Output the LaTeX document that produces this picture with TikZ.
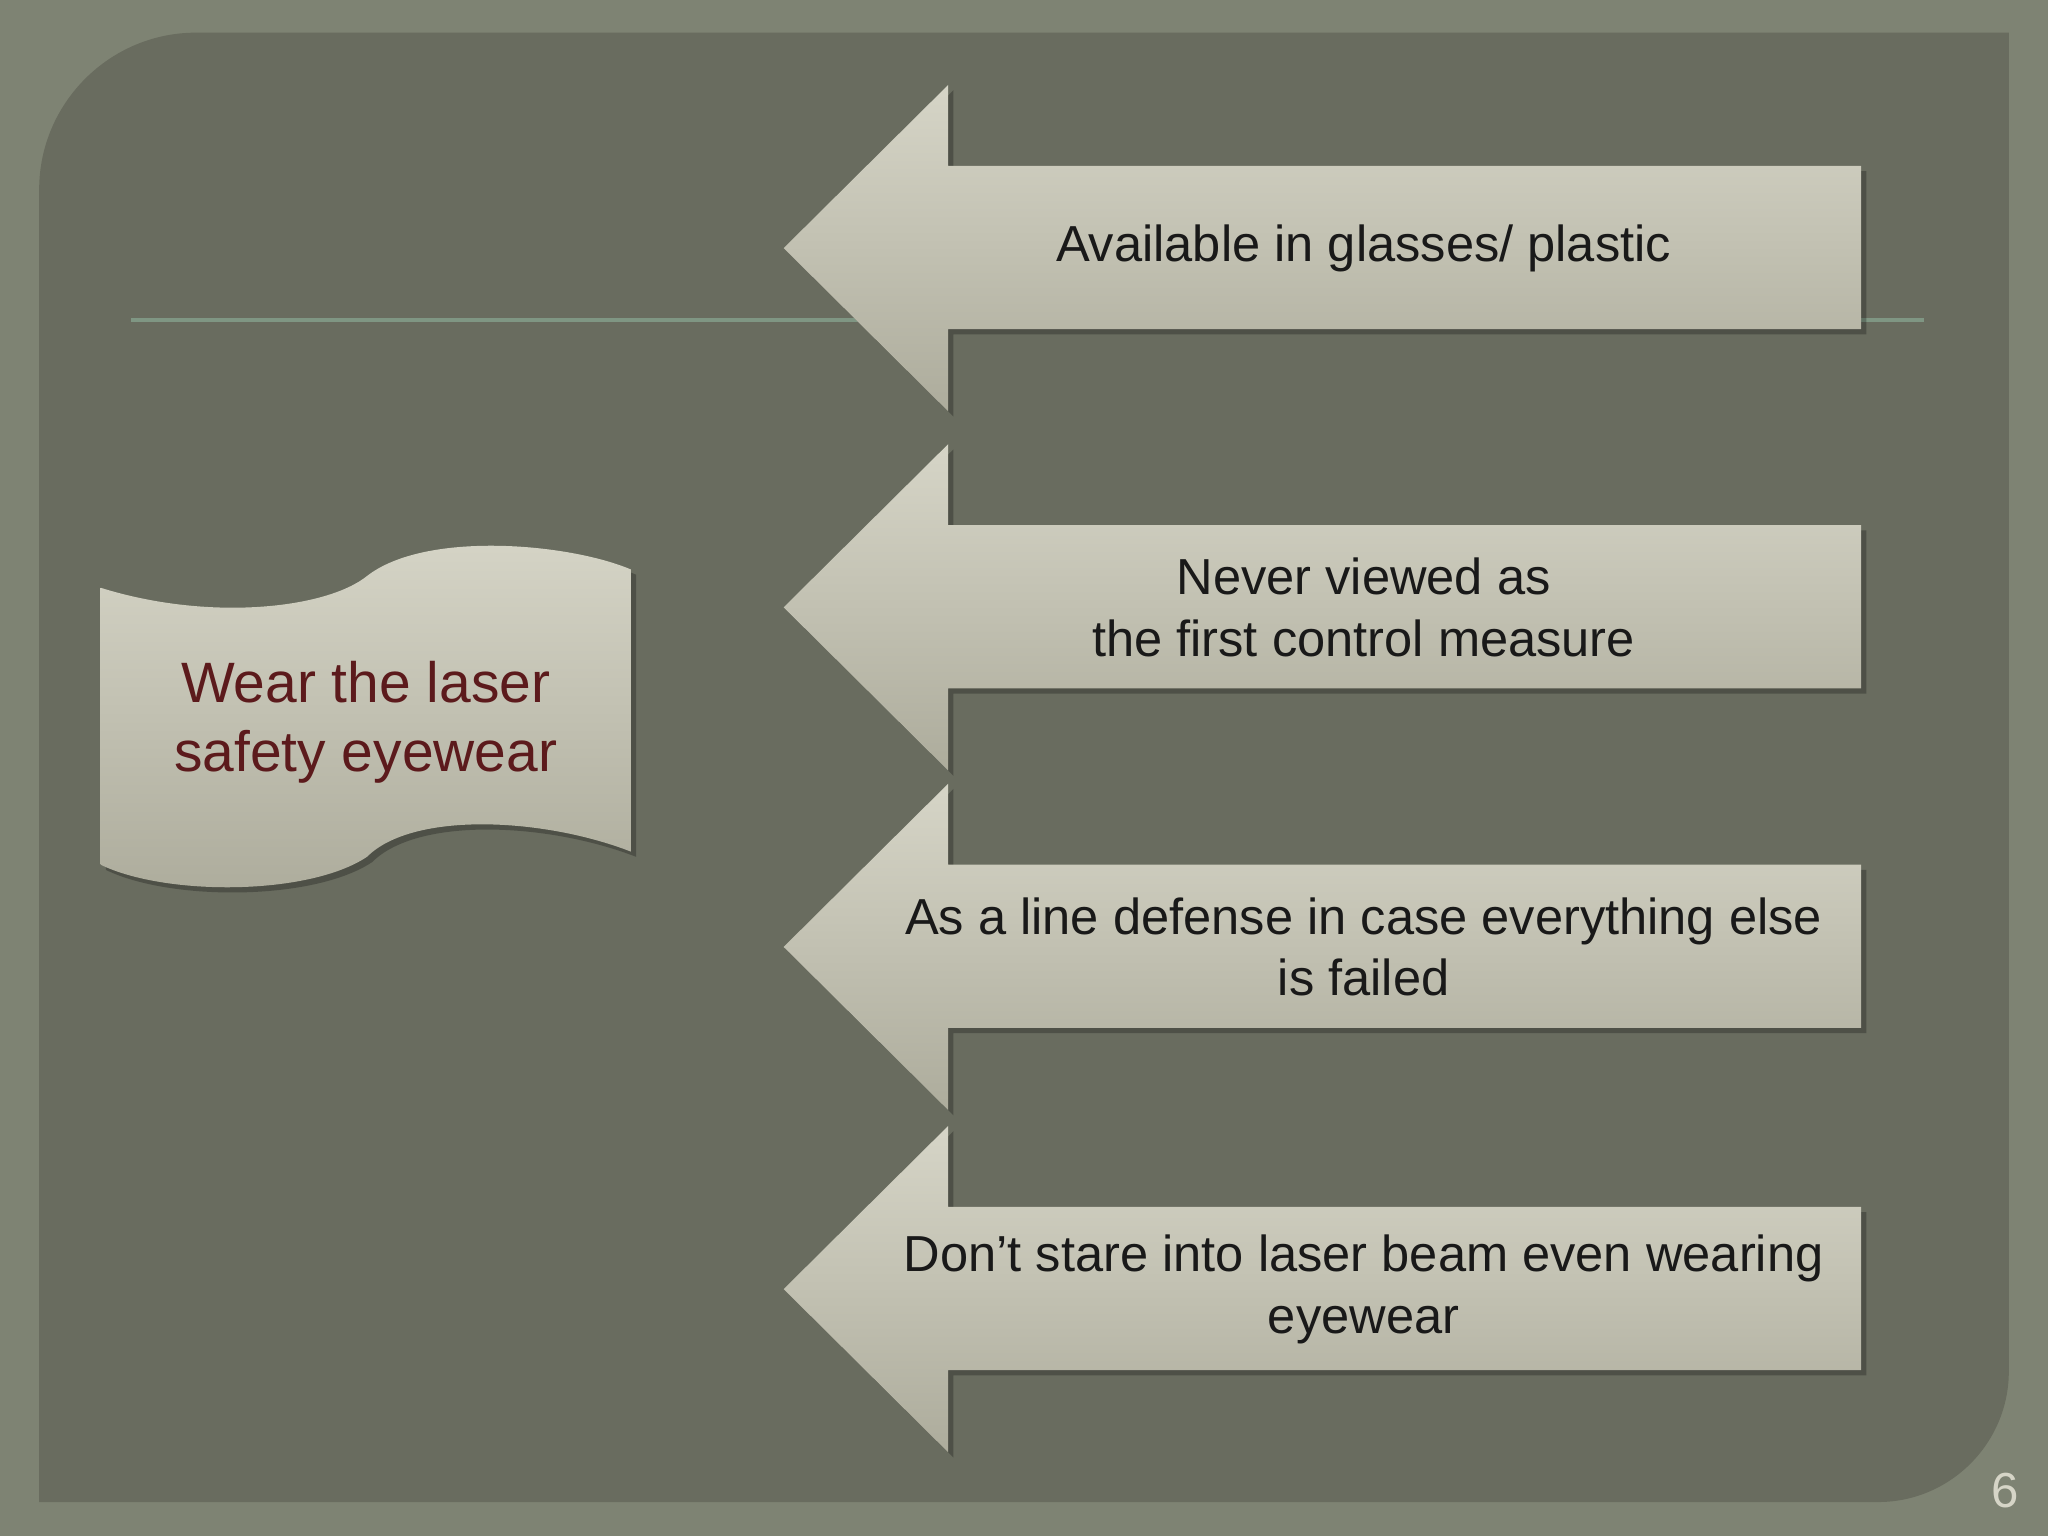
\documentclass[tikz,border=0pt]{standalone}
\usepackage{fontspec}
\setmainfont{Liberation Sans}
\begin{document}
\begin{tikzpicture}[x=0.013061cm,y=-0.013061cm,
  arr/.style={top color=arrtop,bottom color=arrbot,draw=none},
  lbl/.style={align=center,font=\fontsize{14.4pt}{17.6pt}\selectfont,text=black!90}]
\definecolor{bgout}{HTML}{7E8373}
\definecolor{panel}{HTML}{696C5F}
\definecolor{arrtop}{HTML}{D6D5C7}
\definecolor{arrbot}{HTML}{ADAC9C}
\definecolor{rule}{HTML}{7F9683}
\definecolor{banner}{HTML}{5C1A1C}
\fill[bgout] (0,0) rectangle (1568,1176);
\useasboundingbox (0,0) rectangle (1568,1176);
\fill[panel] (30,1150) -- (30,145) .. controls (30,79) and (84,25) .. (150,25) -- (1538,25) -- (1538,1050) .. controls (1538,1105) and (1493,1150) .. (1438,1150) -- cycle;
\draw[rule,line width=1.2pt] (100,245) coordinate (la) -- (1473,245) coordinate (lb);
\foreach \n/\c in {a/190,b/465,c/725,d/987}{
  \fill[black,opacity=0.25] (604,\c+4) -- (730,\c-121) -- (730,\c-59) -- (1429,\c-59) -- (1429,\c+66) -- (730,\c+66) -- (730,\c+129) -- cycle;
  \path[arr] (600,\c) -- (726,\c-125) -- (726,\c-63) -- (1425,\c-63) -- (1425,\c+62) -- (726,\c+62) -- (726,\c+125) -- cycle;
  \coordinate (\n) at (1044,\c);
}
\node[lbl] (ta) at (1044,190) {Available in glasses/ plastic};
\node[lbl] (tb) at (b) {Never viewed as\\ the first control measure};
\node[lbl] (tc) at (c) {As a line defense in case everything else\\ is failed};
\node[lbl] (td) at (d) {Don’t stare into laser beam even wearing\\ eyewear};
% banner
\fill[black,opacity=0.25] (81,454) .. controls (160,480) and (250,470) .. (285,445) .. controls (330,410) and (440,420) .. (487,440) -- (487,656) .. controls (420,630) and (320,625) .. (285,660) .. controls (240,690) and (130,690) .. (81,666) -- cycle;
\path[top color=arrtop,bottom color=arrbot] (77,450) .. controls (160,476) and (250,466) .. (281,441) .. controls (326,406) and (436,416) .. (483,436) -- (483,652) .. controls (416,626) and (316,621) .. (281,656) .. controls (236,686) and (126,686) .. (77,662) -- cycle;
\node[align=center,text=banner,font=\fontsize{16.2pt}{19.8pt}\selectfont] (w) at (280,553) {Wear the laser\\ safety eyewear};
\node[text=arrtop,font=\fontsize{14pt}{17pt}\selectfont] (pg) at (1535,1141) {6};
\end{tikzpicture}
\end{document}
